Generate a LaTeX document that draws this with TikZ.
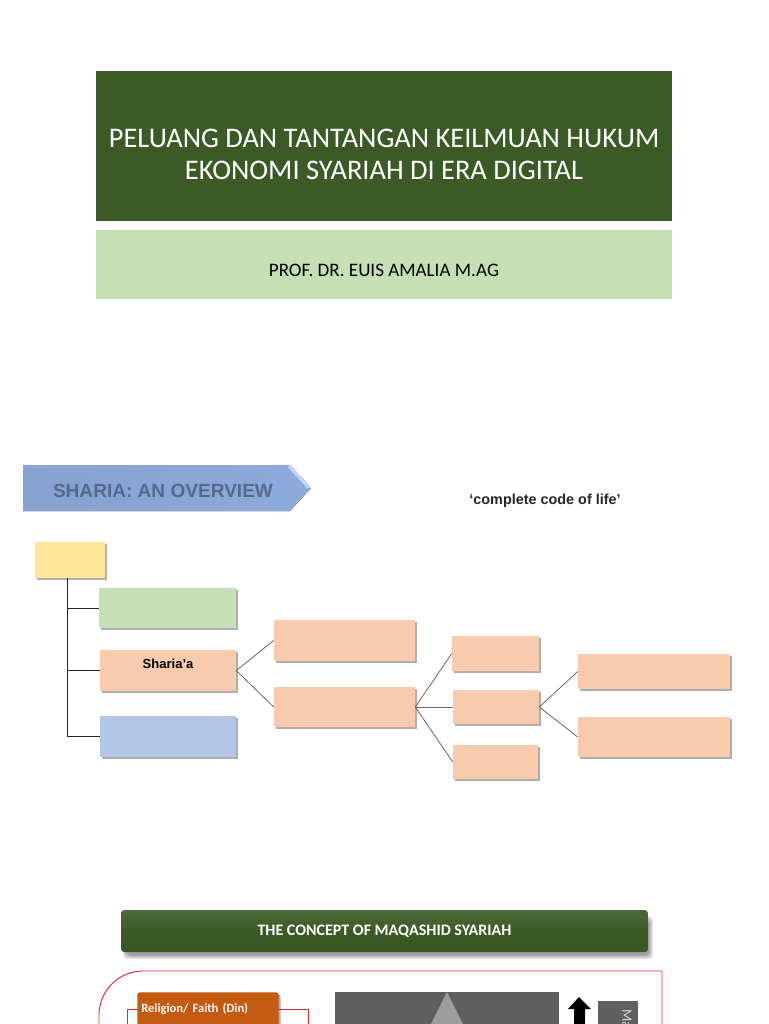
\documentclass[tikz,border=0pt]{standalone}
\usepackage{fontspec}
\setmainfont{Carlito}
\newfontfamily\arialfont{Liberation Sans}
\usetikzlibrary{shadows}
\definecolor{darkgreen}{HTML}{3B5A25}
\definecolor{palegreen}{HTML}{C5E0B4}
\definecolor{peach}{HTML}{F8CBAD}
\definecolor{paleyellow}{HTML}{FFE699}
\definecolor{paleblue}{HTML}{B4C7E7}
\definecolor{midblue}{HTML}{8EA9DB}
\definecolor{inkblue}{HTML}{55698C}
\definecolor{rust}{HTML}{C55A11}
\definecolor{framered}{HTML}{E02B2B}
\definecolor{slate}{HTML}{5F5F5F}
\tikzset{
  plate/.style={rectangle,inner sep=0pt,fill=#1},
  card/.style={plate=#1,drop shadow={shadow xshift=1.5pt,shadow yshift=-1.5pt,opacity=.45,fill=black!70}},
  link/.style={draw=black!60,line width=.6pt},
  trunk/.style={draw=black!85,line width=.7pt},
  frameline/.style={draw=framered,line width=.7pt},
  boxsize/.style 2 args={minimum width=#1*.75pt,minimum height=#2*.75pt}
}
\begin{document}
\begin{tikzpicture}[x=.75pt,y=-.75pt]
  \useasboundingbox (0,0) rectangle (768,1024);
  \clip (0,0) rectangle (768,1024);

  % title slide
  \node[plate=darkgreen,boxsize={576}{150},label={[text=white,align=center,yshift=-6.5pt,font=\fontsize{21.3}{24.2}\selectfont]center:PELUANG DAN TANTANGAN KEILMUAN HUKUM\\EKONOMI SYARIAH DI ERA DIGITAL}] (title) at (384,146) {};
  \node[plate=palegreen,boxsize={576}{69},label={[yshift=-4.5pt,font=\fontsize{14.3}{17}\selectfont]center:PROF. DR. EUIS AMALIA M.AG}] (author) at (384,264.5) {};

  % overview slide
  \fill[left color=midblue!95!black,right color=midblue] (23,465) -- (290,465) -- (311,488) -- (290,511) -- (23,511) -- cycle;
  \fill[paleblue!70!white] (290,465) -- (311,488) -- (307,488) -- (288,467) -- cycle;
  \node[text=inkblue,font=\arialfont\bfseries\fontsize{14.3}{17}\selectfont] (overview) at (163,491) {SHARIA: AN OVERVIEW};
  \node[text=black!85,font=\arialfont\bfseries\fontsize{10.8}{13}\selectfont] (motto) at (545,500.5) {‘complete code of life’};

  \node[card=paleyellow,boxsize={70}{36}] (root) at (70,560) {};
  \node[card=palegreen,boxsize={137}{40}] (akidah) at (167.5,608) {};
  \node[card=peach,boxsize={136}{41},font=\arialfont\bfseries\fontsize{9.8}{12}\selectfont] (sharia) at (168,670.5) {\raisebox{10pt}{Sharia’a}};
  \node[card=paleblue,boxsize={136}{41}] (akhlak) at (168,736.5) {};
  \node[card=peach,boxsize={141}{41}] (ibadah) at (344.5,640.5) {};
  \node[card=peach,boxsize={141}{40}] (muamalah) at (344.5,707) {};
  \node[card=peach,boxsize={87}{35}] (first) at (495.5,653.5) {};
  \node[card=peach,boxsize={86}{34}] (second) at (496,707) {};
  \node[card=peach,boxsize={85}{34}] (third) at (495.5,762) {};
  \node[card=peach,boxsize={152}{35}] (upper) at (654,671.5) {};
  \node[card=peach,boxsize={152}{40}] (lower) at (654,737) {};

  \coordinate (fork) at (67,578);
  \foreach \to in {akidah,sharia,akhlak}
    \draw[trunk] (fork) |- (\to.west);
  \foreach \from/\to in {sharia/ibadah,sharia/muamalah,muamalah/first,muamalah/second,muamalah/third,second/upper,second/lower}
    \draw[link] (\from.east) -- (\to.west);

  % maqashid slide
  \foreach \grow in {0,1,2,3,4}
    \fill[black,opacity=.09,rounded corners=3pt] (127-\grow,920-\grow) rectangle (649+\grow,955+\grow);
  \node[rectangle,rounded corners=2.5pt,inner sep=0pt,top color=darkgreen!90!white,bottom color=darkgreen!95!black,middle color=darkgreen,shading angle=0,text=white,boxsize={527}{42},font=\bfseries\fontsize{12}{14}\selectfont] (banner) at (384.5,931) {\raisebox{-1.5pt}{THE CONCEPT OF MAQASHID SYARIAH}};

  \draw[frameline] (99,1030) -- (99,1015) arc (180:270:44) -- (662,971) -- (662,1030);
  \draw[frameline] (127,1030) -- (127,1009) -- (308,1009) -- (308,1030);
  \node[card=rust,rounded corners=2pt,text=white,anchor=north west,inner xsep=3pt,text width=100pt,align=left,text height=15.5pt,text depth=22pt,font=\bfseries\fontsize{9.4}{11}\selectfont] (din) at (137,992) {Religion/ Faith (Din)};

  \node[plate=slate,anchor=north west,boxsize={224}{60}] (pyramid) at (335,992) {};
  \fill[black!38] (447,992) -- (466,1030) -- (428,1030) -- cycle;
  \fill[black] (579,997) -- (591,1009) -- (585,1009) -- (585,1030) -- (574,1030) -- (574,1009) -- (568,1009) -- cycle;
  \node[plate=slate,anchor=north west,boxsize={40}{50}] (side) at (598,1001) {};
  \node[text=white!85!black,rotate=-90,anchor=west,inner sep=0pt,font=\fontsize{10.7}{12}\selectfont] (sidetext) at (627,1009.5) {Ma};
\end{tikzpicture}
\end{document}
